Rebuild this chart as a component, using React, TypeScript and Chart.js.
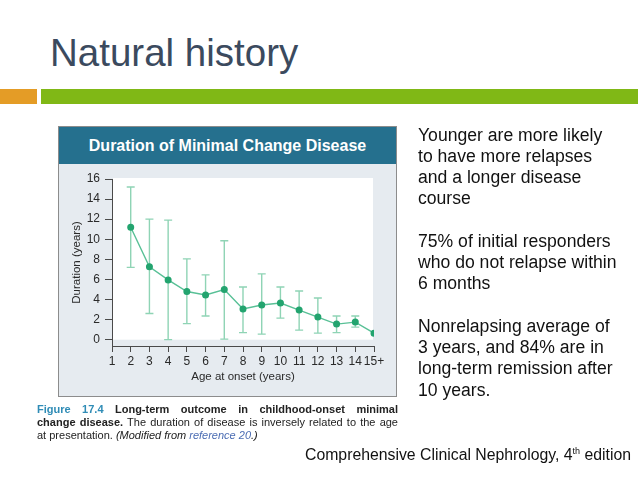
import React, { useEffect, useRef } from "react";
import { Chart, registerables } from "chart.js";

Chart.register(...registerables);

// Mean disease duration (years) by age at onset, with the spread shown as whiskers
const ageAtOnset = [2, 3, 4, 5, 6, 7, 8, 9, 10, 11, 12, 13, 14, 15];
const durationYears = [11.2, 7.25, 5.95, 4.8, 4.45, 5.0, 3.05, 3.45, 3.65, 2.95, 2.25, 1.55, 1.75, 0.65];
const durationHigh = [15.2, 12.0, 11.9, 8.05, 6.45, 9.85, 5.25, 6.55, 5.25, 4.85, 4.15, 2.35, 2.35, null];
const durationLow = [7.2, 2.6, 0.0, 1.6, 2.35, 0.05, 0.7, 0.55, 2.15, 0.95, 0.65, 0.7, 1.25, null];
const xTickLabels = ["1", "2", "3", "4", "5", "6", "7", "8", "9", "10", "11", "12", "13", "14", "15+"];
const yTickValues = [0, 2, 4, 6, 8, 10, 12, 14, 16];

const FONT = '"Liberation Sans", Arial, Helvetica, sans-serif';
const LINE = "#58c096";
const POINT = "#23a46f";
const WHISKER = "#8fd4b5";
const AXIS = "#4a4a4a";

const whiskers = {
  id: "whiskers",
  beforeDraw(chart: any) {
    const { ctx, chartArea, scales } = chart;
    const bottom = scales.y.getPixelForValue(0);
    ctx.save();
    ctx.fillStyle = "#ffffff";
    ctx.fillRect(chartArea.left + 1, chartArea.top - 1, chartArea.right - chartArea.left - 2, bottom - chartArea.top + 1);
    ctx.restore();
  },
  beforeDatasetsDraw(chart: any) {
    const { ctx, scales } = chart;
    const { x, y } = scales;
    ctx.save();
    ctx.strokeStyle = WHISKER;
    ctx.lineWidth = 1.4;
    ageAtOnset.forEach((age, i) => {
      const hi = durationHigh[i];
      const lo = durationLow[i];
      if (hi == null || lo == null) return;
      const px = x.getPixelForValue(age);
      const top = y.getPixelForValue(hi);
      const bot = y.getPixelForValue(lo);
      ctx.beginPath();
      ctx.moveTo(px, top);
      ctx.lineTo(px, bot);
      ctx.moveTo(px - 4, top);
      ctx.lineTo(px + 4, top);
      ctx.moveTo(px - 4, bot);
      ctx.lineTo(px + 4, bot);
      ctx.stroke();
    });
    ctx.restore();
  },
};

function DurationChart() {
  const ref = useRef<HTMLCanvasElement>(null);
  useEffect(() => {
    if (!ref.current) return;
    const chart = new Chart(ref.current, {
      type: "line",
      data: {
        datasets: [
          {
            data: ageAtOnset.map((a, i) => ({ x: a, y: durationYears[i] })),
            borderColor: LINE,
            borderWidth: 1.4,
            pointBackgroundColor: POINT,
            pointBorderColor: POINT,
            pointRadius: 2.8,
            tension: 0,
          },
        ],
      },
      options: {
        responsive: false,
        animation: false,
        layout: { padding: { left: 62, right: 264, top: 179, bottom: 92 } },
        plugins: { legend: { display: false }, tooltip: { enabled: false } },
        scales: {
          x: {
            type: "linear",
            min: 1,
            max: 15,
            afterFit: (s: any) => {
              s.height = 40;
            },
            afterBuildTicks: (s: any) => {
              s.ticks = xTickLabels.map((_, i) => ({ value: i + 1 }));
            },
            ticks: {
              autoSkip: false,
              maxRotation: 0,
              padding: 2,
              color: "#2a2a2a",
              font: { family: FONT, size: 12 },
              callback: (v: any) => xTickLabels[Number(v) - 1],
            },
            grid: { drawOnChartArea: false, tickLength: 6, color: AXIS },
            border: { display: true, color: AXIS, width: 1 },
            title: {
              display: true,
              text: "Age at onset (years)",
              color: "#2a2a2a",
              font: { family: FONT, size: 11.5 },
              padding: { top: 0, bottom: 2 },
            },
          },
          y: {
            type: "linear",
            min: -0.63,
            max: 16,
            afterFit: (s: any) => {
              s.width = 50;
            },
            afterBuildTicks: (s: any) => {
              s.ticks = yTickValues.map((v) => ({ value: v }));
            },
            ticks: {
              padding: 5,
              color: "#2a2a2a",
              font: { family: FONT, size: 12 },
            },
            grid: { drawOnChartArea: false, tickLength: 7, color: AXIS },
            border: { display: true, color: AXIS, width: 1 },
            title: {
              display: true,
              text: "Duration (years)",
              color: "#2a2a2a",
              font: { family: FONT, size: 11.5 },
              padding: { top: 8, bottom: 0 },
            },
          },
        },
      },
      plugins: [whiskers],
    });
    return () => chart.destroy();
  }, []);
  return (
    <canvas
      ref={ref}
      width={638}
      height={478}
      style={{ position: "absolute", left: 0, top: 0, width: 638, height: 478 }}
    />
  );
}

const rightText =
  "Younger are more likely\nto have more relapses\nand a longer disease\ncourse\n\n75% of initial responders\nwho do not relapse within\n6 months\n\nNonrelapsing average of\n3 years, and 84% are in\nlong-term remission after\n10 years.";

export default function App() {
  return (
    <div
      style={{
        position: "absolute",
        left: 0,
        top: 0,
        width: 638,
        height: 478,
        background: "#ffffff",
        overflow: "hidden",
        fontFamily: FONT,
      }}
    >
      <div
        style={{
          position: "absolute",
          left: 50,
          top: 34,
          fontSize: 38.5,
          lineHeight: "38.5px",
          color: "#3b4a5e",
          whiteSpace: "nowrap",
        }}
      >
        Natural history
      </div>
      <div style={{ position: "absolute", left: 0, top: 89, width: 37, height: 15, background: "#e49c26" }} />
      <div style={{ position: "absolute", left: 41, top: 89, width: 597, height: 15, background: "#80b816" }} />

      {/* figure panel */}
      <div
        style={{
          position: "absolute",
          left: 58,
          top: 126,
          width: 337,
          height: 269,
          border: "1px solid #8c8c8c",
          background: "#e6ebf0",
        }}
      >
        <div
          style={{
            height: 37,
            background: "#25708e",
            color: "#ffffff",
            fontWeight: "bold",
            fontSize: 16,
            lineHeight: "37px",
            textAlign: "center",
            whiteSpace: "nowrap",
          }}
        >
          Duration of Minimal Change Disease
        </div>
      </div>
      <DurationChart />

      {/* caption */}
      <div
        style={{
          position: "absolute",
          left: 37,
          top: 403,
          width: 361,
          fontSize: 11,
          lineHeight: "13px",
          color: "#222",
        }}
      >
        <div style={{ textAlign: "justify", textAlignLast: "justify", fontWeight: "bold", whiteSpace: "nowrap" }}>
          <span style={{ color: "#2f8cb6" }}>Figure 17.4</span> Long-term outcome in childhood-onset minimal
        </div>
        <div style={{ textAlign: "justify", textAlignLast: "justify", whiteSpace: "nowrap" }}>
          <b>change disease.</b> The duration of disease is inversely related to the age
        </div>
        <div style={{ whiteSpace: "nowrap" }}>
          at presentation. <i>(Modified from <span style={{ color: "#4a6cb3" }}>reference 20</span>.)</i>
        </div>
      </div>

      {/* notes */}
      <div
        style={{
          position: "absolute",
          left: 418,
          top: 124.5,
          fontSize: 17.6,
          lineHeight: "21.25px",
          color: "#111",
          whiteSpace: "pre-line",
        }}
      >
        {rightText}
      </div>

      <div
        style={{
          position: "absolute",
          left: 305,
          top: 445,
          fontSize: 15.8,
          lineHeight: "19px",
          color: "#111",
          whiteSpace: "nowrap",
        }}
      >
        Comprehensive Clinical Nephrology, 4<sup style={{ fontSize: 9, verticalAlign: "6px", lineHeight: 0 }}>th</sup> edition
      </div>
    </div>
  );
}
